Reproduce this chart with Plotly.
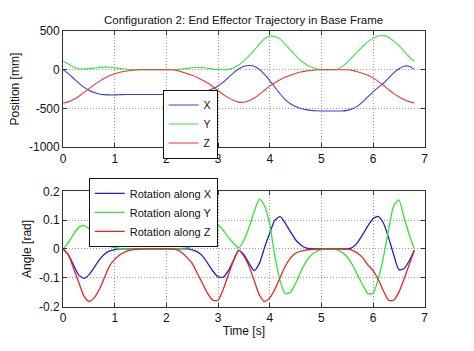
import plotly.graph_objects as go

# time samples (s)
time_s = [round(0.1 * i, 1) for i in range(69)]

# Position [mm]
pos_x = [0, -50, -110, -170, -225, -265, -295, -313, -322, -325,
         -325, -323, -320, -320, -320, -320, -320, -320, -320, -320,
         -320, -320, -320, -320, -320, -318, -310, -295, -272, -246,
         -210, -160, -100, -40, 10, 45, 55, 45, 5, -60,
         -140, -225, -310, -385, -440, -475, -500, -515, -525, -530,
         -533, -533, -533, -533, -533, -525, -505, -470, -415, -350,
         -285, -228, -175, -108, -40, 12, 45, 45, 5]
pos_y = [110, 75, 35, 12, 10, 15, 22, 29, 33, 32,
         25, 17, 9, 3, 0, 0, 0, 0, 0, 0,
         0, 0, 3, 10, 18, 25, 29, 28, 20, 8,
         2, 0, 5, 25, 60, 115, 180, 250, 330, 400,
         435, 430, 395, 330, 255, 185, 120, 70, 35, 12,
         2, 0, 0, 5, 40, 95, 165, 235, 300, 360,
         405, 435, 440, 420, 370, 310, 240, 170, 110]
pos_z = [-430, -415, -385, -345, -295, -245, -195, -150, -110, -78,
         -53, -33, -19, -10, -4, -1, 0, 0, 0, 0,
         0, 0, -8, -28, -50, -70, -100, -135, -172, -220,
         -270, -320, -360, -395, -418, -420, -400, -365, -318, -265,
         -212, -168, -128, -95, -70, -48, -30, -18, -9, -3,
         0, 0, 0, 0, 0, 0, -8, -25, -45, -72,
         -105, -150, -200, -255, -305, -348, -385, -412, -428]

# Angle [rad]
rot_x = [0, -0.02, -0.055, -0.09, -0.102, -0.09, -0.065, -0.038, -0.018, -0.007,
         -0.002, 0, 0, 0, 0, 0, 0, 0, 0, 0,
         0, 0, 0, 0, 0, -0.003, -0.01, -0.025, -0.05, -0.077,
         -0.097, -0.098, -0.075, -0.04, -0.005, -0.02, -0.05, -0.075, -0.05, 0.005,
         0.055, 0.1, 0.112, 0.09, 0.06, 0.032, 0.014, 0.004, 0.001, 0,
         0, 0, 0, 0, 0, 0, 0.005, 0.022, 0.05, 0.08,
         0.105, 0.113, 0.09, 0.04, -0.02, -0.072, -0.068, -0.042, -0.005]
rot_y = [0, 0.022, 0.05, 0.074, 0.082, 0.07, 0.054, 0.035, 0.02, 0.01,
         0.005, 0.002, 0, 0, 0, 0, 0, 0, 0, 0,
         0, 0, 0, 0.002, 0.005, 0.01, 0.018, 0.03, 0.045, 0.07,
         0.082, 0.065, 0.04, 0.02, 0.003, 0.03, 0.075, 0.13, 0.173, 0.15,
         0.085, -0.025, -0.11, -0.155, -0.15, -0.12, -0.08, -0.045, -0.022, -0.009,
         -0.002, 0, 0, -0.003, -0.012, -0.028, -0.055, -0.09, -0.125, -0.155,
         -0.155, -0.105, -0.03, 0.065, 0.15, 0.17, 0.11, 0.05, 0.0]
rot_z = [0, -0.02, -0.066, -0.115, -0.162, -0.182, -0.17, -0.141, -0.1, -0.059,
         -0.036, -0.02, -0.01, -0.004, -0.001, 0, 0, 0, 0, 0,
         0, 0, -0.003, -0.012, -0.03, -0.05, -0.085, -0.12, -0.155, -0.178,
         -0.178, -0.14, -0.09, -0.04, -0.004, -0.025, -0.06, -0.11, -0.16, -0.182,
         -0.17, -0.14, -0.1, -0.06, -0.032, -0.015, -0.008, -0.004, -0.002, -0.001,
         0, 0, 0, 0, 0, 0, -0.005, -0.015, -0.03, -0.055,
         -0.075, -0.105, -0.145, -0.178, -0.178, -0.15, -0.105, -0.055, -0.005]

x_ticks = [0, 1, 2, 3, 4, 5, 6, 7]
pos_ticks = [-1000, -500, 0, 500]
pos_tick_text = ["-1000", "-500", "0", "500"]
ang_ticks = [-0.2, -0.1, 0, 0.1, 0.2]
ang_tick_text = ["-0.2", "-0.1", "0", "0.1", "0.2"]

pos_names = ["X", "Y", "Z"]
rot_names = ["Rotation along X", "Rotation along Y", "Rotation along Z"]
colors_top = ["rgb(60,60,215)", "rgb(60,225,60)", "rgb(230,55,55)"]
colors_bot = ["rgb(30,30,215)", "rgb(50,225,50)", "rgb(230,35,35)"]

W, H = 474, 351
fig = go.Figure()

for name, ys, c in zip(pos_names, [pos_x, pos_y, pos_z], colors_top):
    fig.add_trace(go.Scatter(x=time_s, y=ys, name=name, mode="lines",
                             line=dict(color=c, width=1.1, shape="spline", smoothing=0.6),
                             xaxis="x", yaxis="y", legend="legend"))
for name, ys, c in zip(rot_names, [rot_x, rot_y, rot_z], colors_bot):
    fig.add_trace(go.Scatter(x=time_s, y=ys, name=name, mode="lines",
                             line=dict(color=c, width=1.3, shape="spline", smoothing=0.6),
                             xaxis="x2", yaxis="y2", legend="legend2"))

x0, x1 = 61 / W, 428 / W
top_dom = [(H - 146) / H, (H - 25) / H]
bot_dom = [(H - 312) / H, (H - 192) / H]

axis_common = dict(showline=True, linecolor="#333", linewidth=1, mirror="ticks",
                   ticks="inside", ticklen=4, tickcolor="#333",
                   showgrid=True, gridcolor="#999", griddash="1px,2px", gridwidth=1,
                   zeroline=False, tickfont=dict(size=12, color="#111"))

font = dict(family="Liberation Sans, Arial, sans-serif", size=12, color="#111")

fig.update_layout(
    width=W, height=H, margin=dict(l=0, r=0, t=0, b=0),
    paper_bgcolor="white", plot_bgcolor="white", font=font,
    xaxis=dict(domain=[x0, x1], range=[0, 7], tickvals=x_ticks, anchor="y", **axis_common),
    yaxis=dict(domain=top_dom, range=[-1000, 500], tickvals=pos_ticks, ticktext=pos_tick_text,
               anchor="x", title=dict(text="Position [mm]", standoff=6, font=dict(size=12)),
               **axis_common),
    xaxis2=dict(domain=[x0, x1], range=[0, 7], tickvals=x_ticks, anchor="y2",
                title=dict(text="Time [s]", standoff=2, font=dict(size=12)), **axis_common),
    yaxis2=dict(domain=bot_dom, range=[-0.2, 0.2], tickvals=ang_ticks, ticktext=ang_tick_text,
                anchor="x2", title=dict(text="Angle [rad]", standoff=4, font=dict(size=12)),
                **axis_common),
    legend=dict(x=162 / W, y=(H - 86) / H, xanchor="left", yanchor="top",
                bgcolor="white", bordercolor="#111", borderwidth=1,
                font=dict(size=10.5), itemwidth=30, tracegroupgap=0),
    legend2=dict(x=87 / W, y=(H - 178) / H, xanchor="left", yanchor="top",
                 bgcolor="white", bordercolor="#111", borderwidth=1,
                 font=dict(size=11), itemwidth=30, tracegroupgap=0),
    annotations=[dict(text="Configuration 2: End Effector Trajectory in Base Frame",
                      x=(x0 + x1) / 2, y=(H - 14) / H, xref="paper", yref="paper",
                      showarrow=False, font=dict(size=11.5), xanchor="center", yanchor="middle")],
)

fig.write_html("out.html")
